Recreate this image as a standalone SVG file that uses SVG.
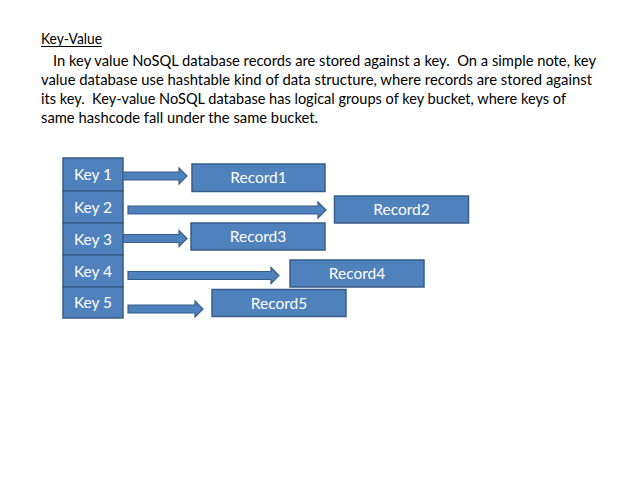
<svg xmlns="http://www.w3.org/2000/svg" width="638" height="478" viewBox="0 0 638 478">
<style>
.body{font-family:Lato,"Open Sans","Liberation Sans",sans-serif;font-size:15.2px;fill:#000;white-space:pre}
.box{fill:#4F81BD;stroke:#385D8A;stroke-width:1.5}
.arr{fill:#4F81BD;stroke:#385D8A;stroke-width:1.2}
.lbl{font-family:Lato,"Open Sans","Liberation Sans",sans-serif;font-size:15.5px;fill:#fff;text-anchor:middle}
</style>
<rect width="638" height="478" fill="#fff"/>
<g id="title">
<text class="body" x="41" y="44" textLength="61" lengthAdjust="spacingAndGlyphs">Key-Value</text>
<line x1="41" y1="46.5" x2="102" y2="46.5" stroke="#000" stroke-width="1"/>
</g>
<g id="paragraph">
<text class="body" x="53" y="65.7" textLength="543" lengthAdjust="spacingAndGlyphs">In key value NoSQL database records are stored against a key.  On a simple note, key</text>
<text class="body" x="41" y="84.7" textLength="551" lengthAdjust="spacingAndGlyphs">value database use hashtable kind of data structure, where records are stored against</text>
<text class="body" x="41" y="103.7" textLength="525" lengthAdjust="spacingAndGlyphs">its key.  Key-value NoSQL database has logical groups of key bucket, where keys of</text>
<text class="body" x="41" y="122.5" textLength="277" lengthAdjust="spacingAndGlyphs">same hashcode fall under the same bucket.</text>
</g>
<g id="connectors">
<path class="arr" d="M122,172 H179 V168 L187,176 L179,184 V180 H122 Z"/>
<path class="arr" d="M128,206 H318 V202 L326,210 L318,218 V214 H128 Z"/>
<path class="arr" d="M122,234.5 H179 V230.5 L187,238.5 L179,246.5 V242.5 H122 Z"/>
<path class="arr" d="M128,271.5 H271 V267.5 L279,275.5 L271,283.5 V279.5 H128 Z"/>
<path class="arr" d="M128,305 H195 V301 L203,309 L195,317 V313 H128 Z"/>
</g>
<g id="key1"><rect class="box" x="63" y="158" width="60" height="33"/><text class="lbl" x="93" y="180">Key 1</text></g>
<g id="key2"><rect class="box" x="63" y="191" width="60" height="32"/><text class="lbl" x="93" y="212.5">Key 2</text></g>
<g id="key3"><rect class="box" x="63" y="223" width="60" height="32"/><text class="lbl" x="93" y="244.5">Key 3</text></g>
<g id="key4"><rect class="box" x="63" y="255" width="60" height="32"/><text class="lbl" x="93" y="276.5">Key 4</text></g>
<g id="key5"><rect class="box" x="63" y="287" width="60" height="31"/><text class="lbl" x="93" y="308">Key 5</text></g>
<g id="record1"><rect class="box" x="192" y="164" width="133" height="27.5"/><text class="lbl" x="258.5" y="183">Record1</text></g>
<g id="record2"><rect class="box" x="334.5" y="196" width="134" height="27"/><text class="lbl" x="401.5" y="215">Record2</text></g>
<g id="record3"><rect class="box" x="191" y="223" width="134" height="27"/><text class="lbl" x="258" y="242">Record3</text></g>
<g id="record4"><rect class="box" x="290" y="260" width="134" height="27"/><text class="lbl" x="357" y="279">Record4</text></g>
<g id="record5"><rect class="box" x="212" y="289.5" width="134" height="27"/><text class="lbl" x="279" y="308.5">Record5</text></g>
</svg>
